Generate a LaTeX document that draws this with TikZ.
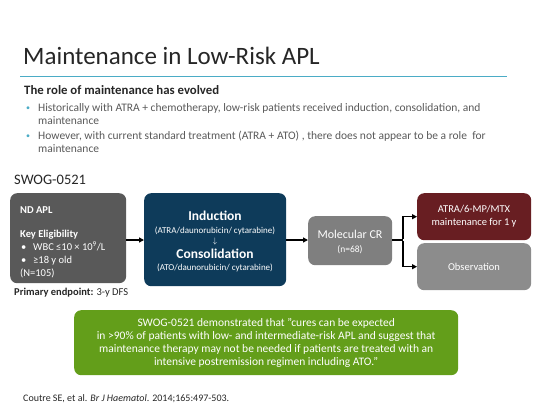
\documentclass[tikz,border=0pt]{standalone}
\usepackage{fontspec}
\setmainfont{Carlito}
\usepackage{tikz}
\usetikzlibrary{positioning,calc,arrows.meta}
\definecolor{aplteal}{RGB}{75,172,198}
\definecolor{apldark}{RGB}{89,89,89}
\definecolor{aplnavy}{RGB}{14,59,90}
\definecolor{aplmid}{RGB}{127,127,127}
\definecolor{aplred}{RGB}{104,30,34}
\definecolor{aplgreen}{RGB}{99,158,26}
\definecolor{apltext}{RGB}{38,38,38}
\definecolor{aplbody}{RGB}{89,89,89}
\tikzset{
    box/.style={rectangle, rounded corners=7pt, draw=none, inner sep=0pt, anchor=north west},
    boxtext/.style={text=white, inner sep=0pt, align=center},
    lefttext/.style={inner sep=0pt, anchor=base west},
    bullettext/.style={lefttext, text=aplbody, font=\fontsize{11.5}{13}\selectfont},
    ndtext/.style={lefttext, text=white, font=\fontsize{10.5}{12}\selectfont},
    flow/.style={-{Triangle[length=5pt,width=5pt]}, line width=1.3pt, black},
    flowline/.style={line width=1.3pt, black},
}

\begin{document}
\begin{tikzpicture}[x=1pt,y=-1pt]
    \useasboundingbox (0,0) rectangle (540,405);

    % Title and rule
    \node[lefttext, text=apltext, font=\fontsize{25}{30}\selectfont] (title) at (23,64) {Maintenance in Low-Risk APL};
    \draw[aplteal, line width=1pt] (20,76) -- (507,76);

    % Heading and bullets
    \node[lefttext, text=apltext, font=\bfseries\fontsize{12.8}{15}\selectfont] (role) at (24,94) {The role of maintenance has evolved};
    \node[bullettext, text=aplteal, font=\fontsize{8}{9}\selectfont] (b1) at (26,110) {•};
    \node[bullettext] (hist) at (38,111) {Historically with ATRA + chemotherapy, low-risk patients received induction, consolidation, and};
    \node[bullettext] (hist2) at (38,124) {maintenance};
    \node[bullettext, text=aplteal, font=\fontsize{8}{9}\selectfont] (b2) at (26,138) {•};
    \node[bullettext] (howev) at (38,139) {However, with current standard treatment (ATRA + ATO) , there does not appear to be a role~ for};
    \node[bullettext] (howev2) at (38,152) {maintenance};

    % Study label
    \node[lefttext, text=apltext, font=\fontsize{14.5}{17}\selectfont] (swog) at (14,184) {SWOG-0521};

    % Boxes
    \node[box, fill=apldark, minimum width=116pt, minimum height=90pt] (ndapl) at (10,193) {};
    \node[box, fill=aplnavy, minimum width=142pt, minimum height=93pt] (induct) at (144,193) {};
    \node[box, fill=aplmid, minimum width=84pt, minimum height=49pt] (molcr) at (308,216) {};
    \node[box, fill=aplred, minimum width=114pt, minimum height=47pt] (maint) at (417,193) {};
    \node[box, fill=aplmid!90!white, minimum width=114pt, minimum height=47pt] (obs) at (417,243) {};

    % ND APL box text
    \node[ndtext, font=\bfseries\fontsize{10.5}{12}\selectfont] (ndtitle) at (20,213) {ND APL};
    \node[ndtext, font=\bfseries\fontsize{10.5}{12}\selectfont] (keyelig) at (20,237) {Key Eligibility};
    \node[ndtext] (wbcb) at (21,250) {•};
    \node[ndtext] (wbc) at (33,250) {WBC ≤10 × 10\textsuperscript{9}/L};
    \node[ndtext] (ageb) at (21,263) {•};
    \node[ndtext] (age) at (33,263) {≥18 y old};
    \node[ndtext] (nnum) at (20,276) {(N=105)};
    \node[lefttext, text=apltext, font=\fontsize{10.5}{12}\selectfont] (endpt) at (14,295) {\textbf{Primary endpoint:} 3-y DFS};

    % Induction box text
    \node[boxtext, font=\bfseries\fontsize{13.5}{16}\selectfont] (indtitle) at (215,216) {Induction};
    \node[boxtext, font=\fontsize{9}{11}\selectfont] (indsub) at (215,231) {(ATRA/daunorubicin/ cytarabine)};
    \node[boxtext, font=\fontsize{8}{9}\selectfont] (indarr) at (215,241.5) {$\downarrow$};
    \node[boxtext, font=\bfseries\fontsize{13.5}{16}\selectfont] (constitle) at (215,254) {Consolidation};
    \node[boxtext, font=\fontsize{9}{11}\selectfont] (conssub) at (215,268) {(ATO/daunorubicin/ cytarabine)};

    % Right boxes text
    \node[boxtext, font=\fontsize{12}{14}\selectfont] (crtitle) at (350,234) {Molecular CR};
    \node[boxtext, font=\fontsize{9.5}{11}\selectfont] (crn) at (350,250) {(n=68)};
    \node[boxtext, font=\fontsize{10.5}{13}\selectfont] (mainttext) at (474,216.5) {ATRA/6-MP/MTX\\maintenance for 1 y};
    \node[boxtext, font=\fontsize{10.5}{13}\selectfont] (obstext) at (474,266.5) {Observation};

    % Connectors
    \draw[flow] (ndapl.east |- 0,240) -- (induct.west |- 0,240);
    \draw[flow] (induct.east |- 0,240) -- (molcr.west |- 0,240);
    \coordinate (split) at (403,240);
    \draw[flowline] (molcr.east |- split) -- (split);
    \draw[flow] ($(split)+(0,-0.65)$) |- (maint.west);
    \draw[flow] ($(split)+(0,0.65)$) |- (obs.west);

    % Conclusion
    \node[box, fill=aplgreen, minimum width=384pt, minimum height=65pt] (concl) at (74,310) {};
    \node[boxtext, font=\fontsize{11.5}{13}\selectfont] (concltext) at (concl.center) {SWOG-0521 demonstrated that "cures can be expected\\in >90\% of patients with low- and intermediate-risk APL and suggest that\\maintenance therapy may not be needed if patients are treated with an\\intensive postremission regimen including ATO."};

    % Reference
    \node[lefttext, text=apltext, font=\fontsize{10}{12}\selectfont] (cite) at (23,401) {Coutre SE, et al. \textit{Br J Haematol}. 2014;165:497-503.};
\end{tikzpicture}
\end{document}
